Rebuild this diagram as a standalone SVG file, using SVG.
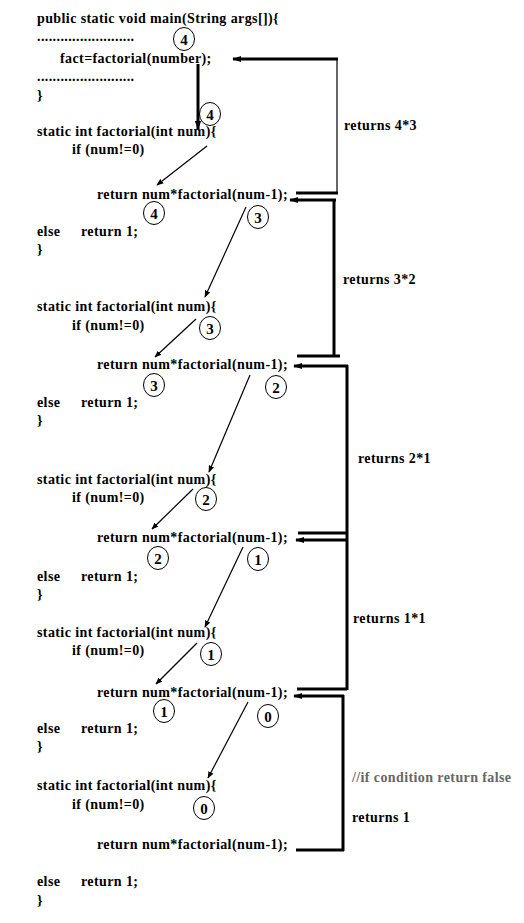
<svg xmlns="http://www.w3.org/2000/svg" width="524" height="923" viewBox="0 0 524 923" font-family="'Liberation Serif', 'Times New Roman', serif">
<defs>
<style>
text{font-family:"Liberation Serif","Times New Roman",serif;font-weight:bold;font-size:14px;letter-spacing:0.4px;fill:#000}
.c{fill:none;stroke:#000;stroke-width:1}
.n{text-anchor:middle;font-size:15px;letter-spacing:0}
.thin{stroke:#000;stroke-width:1.2;fill:none}
.thk{stroke:#000;stroke-width:3;fill:none}
.gray{fill:#666}
</style>
<marker id="ah" viewBox="0 0 10 10" refX="9" refY="5" markerWidth="7" markerHeight="7" orient="auto" markerUnits="userSpaceOnUse"><path d="M0,1 L10,5 L0,9 z" fill="#000"/></marker>
<marker id="ahk" viewBox="0 0 10 10" refX="9" refY="5" markerWidth="9" markerHeight="9" orient="auto" markerUnits="userSpaceOnUse"><path d="M0,1.5 L10,5 L0,8.5 z" fill="#000"/></marker>
</defs>
<rect width="524" height="923" fill="#fff"/>

<g id="main">
<text x="37" y="23">public static void main(String args[]){</text>
<text x="37" y="41">.........................</text>
<text x="60" y="63">fact=factorial(number);</text>
<text x="37" y="81">.........................</text>
<text x="37" y="100">}</text>
</g>

<g id="call4">
<text x="37" y="136">static int factorial(int num){</text>
<text x="72" y="154">if (num!=0)</text>
<text x="97" y="199">return num*factorial(num-1);</text>
<text x="37" y="236">else</text><text x="81" y="236">return 1;</text>
<text x="37" y="254">}</text>
</g>

<g id="call3">
<text x="37" y="311">static int factorial(int num){</text>
<text x="72" y="330">if (num!=0)</text>
<text x="97" y="369">return num*factorial(num-1);</text>
<text x="37" y="407">else</text><text x="81" y="407">return 1;</text>
<text x="37" y="425">}</text>
</g>

<g id="call2">
<text x="37" y="484">static int factorial(int num){</text>
<text x="72" y="502">if (num!=0)</text>
<text x="97" y="542">return num*factorial(num-1);</text>
<text x="37" y="581">else</text><text x="81" y="581">return 1;</text>
<text x="37" y="599">}</text>
</g>

<g id="call1">
<text x="37" y="637">static int factorial(int num){</text>
<text x="72" y="655">if (num!=0)</text>
<text x="97" y="697">return num*factorial(num-1);</text>
<text x="37" y="733">else</text><text x="81" y="733">return 1;</text>
<text x="37" y="751">}</text>
</g>

<g id="call0">
<text x="37" y="790">static int factorial(int num){</text>
<text x="72" y="809">if (num!=0)</text>
<text x="97" y="849">return num*factorial(num-1);</text>
<text x="37" y="886">else</text><text x="81" y="886">return 1;</text>
<text x="37" y="905">}</text>
</g>

<g id="badges">
<ellipse class="c" cx="184" cy="39" rx="10.5" ry="11.5"/><text class="n" x="184" y="44.5">4</text>
<ellipse class="c" cx="210" cy="114" rx="10.5" ry="11.5"/><text class="n" x="210" y="119.5">4</text>
<ellipse class="c" cx="154" cy="213" rx="10.5" ry="11.5"/><text class="n" x="154" y="218.5">4</text>
<ellipse class="c" cx="258" cy="217" rx="10.5" ry="11.5"/><text class="n" x="258" y="222.5">3</text>
<ellipse class="c" cx="210" cy="328" rx="10.5" ry="11.5"/><text class="n" x="210" y="333.5">3</text>
<ellipse class="c" cx="154" cy="385" rx="10.5" ry="11.5"/><text class="n" x="154" y="390.5">3</text>
<ellipse class="c" cx="276" cy="387" rx="10.5" ry="11.5"/><text class="n" x="276" y="392.5">2</text>
<ellipse class="c" cx="206" cy="499" rx="10.5" ry="11.5"/><text class="n" x="206" y="504.5">2</text>
<ellipse class="c" cx="158" cy="558" rx="10.5" ry="11.5"/><text class="n" x="158" y="563.5">2</text>
<ellipse class="c" cx="258" cy="559" rx="10.5" ry="11.5"/><text class="n" x="258" y="564.5">1</text>
<ellipse class="c" cx="211" cy="654" rx="10.5" ry="11.5"/><text class="n" x="211" y="659.5">1</text>
<ellipse class="c" cx="164" cy="711" rx="10.5" ry="11.5"/><text class="n" x="164" y="716.5">1</text>
<ellipse class="c" cx="268" cy="716" rx="10.5" ry="11.5"/><text class="n" x="268" y="721.5">0</text>
<ellipse class="c" cx="204" cy="808" rx="10.5" ry="11.5"/><text class="n" x="204" y="813.5">0</text>
</g>

<g id="labels">
<text x="344" y="130">returns  4*3</text>
<text x="343" y="284">returns  3*2</text>
<text x="358" y="463">returns  2*1</text>
<text x="353" y="623">returns  1*1</text>
<text class="gray" x="352" y="782">//if condition return false</text>
<text x="352" y="822">returns  1</text>
</g>

<g id="connectors">
<line class="thk" x1="198" y1="64" x2="198" y2="129" marker-end="url(#ahk)"/>
<line class="thin" x1="207" y1="146" x2="157" y2="185" marker-end="url(#ah)"/>
<line class="thin" x1="246" y1="207" x2="205" y2="297" marker-end="url(#ah)"/>
<line class="thin" x1="196" y1="319" x2="155" y2="357" marker-end="url(#ah)"/>
<line class="thin" x1="250" y1="375" x2="209" y2="472" marker-end="url(#ah)"/>
<line class="thin" x1="193" y1="489" x2="152" y2="529" marker-end="url(#ah)"/>
<line class="thin" x1="243" y1="547" x2="205" y2="627" marker-end="url(#ah)"/>
<line class="thin" x1="197" y1="643" x2="156" y2="684" marker-end="url(#ah)"/>
<line class="thin" x1="248" y1="702" x2="208" y2="778" marker-end="url(#ah)"/>

<line class="thk" x1="338" y1="59" x2="233" y2="59" marker-end="url(#ahk)"/>
<line class="thin" x1="337" y1="59" x2="337" y2="194"/>
<line class="thk" x1="296" y1="193" x2="338" y2="193"/>
<line class="thk" x1="336" y1="200" x2="290" y2="200" marker-end="url(#ahk)"/>
<line class="thk" x1="334" y1="199" x2="334" y2="357"/>
<line class="thk" x1="297" y1="356" x2="340" y2="356"/>
<line class="thk" x1="348" y1="366" x2="294" y2="366" marker-end="url(#ahk)"/>
<line class="thk" x1="347" y1="365" x2="347" y2="690"/>
<line class="thk" x1="298" y1="533" x2="347" y2="533"/>
<line class="thk" x1="347" y1="540" x2="296" y2="540" marker-end="url(#ahk)"/>
<line class="thk" x1="297" y1="689" x2="347" y2="689"/>
<line class="thk" x1="344" y1="696" x2="294" y2="696" marker-end="url(#ahk)"/>
<line class="thk" x1="343" y1="695" x2="343" y2="851"/>
<line class="thk" x1="296" y1="850" x2="344" y2="850"/>
</g>
</svg>
